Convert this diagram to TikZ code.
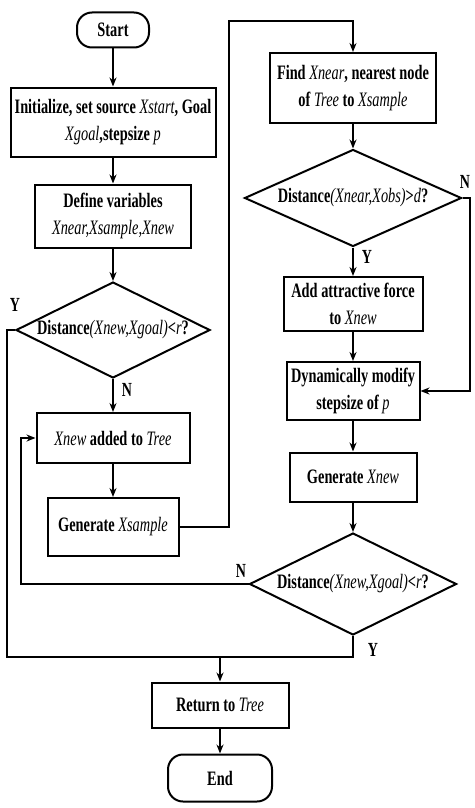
\documentclass[tikz,border=0pt]{standalone}
\usepackage{fontspec}
\setmainfont{Liberation Serif}[FakeStretch=0.7]
\usetikzlibrary{shapes.geometric,arrows.meta}
\newcommand\vv[1]{{\mdseries\itshape #1}}
\begin{document}
\begin{tikzpicture}[x=1pt,y=-1pt,
  every node/.style={font=\fontsize{20.5}{27}\selectfont\bfseries, align=center},
  line/.style={line width=1.7pt},
  arr/.style={line width=1.7pt, -{Stealth[length=9pt,width=7pt]}},
  boxx/.style={draw, line width=2pt, rectangle, inner sep=0pt},
  term/.style={draw, line width=2pt, rectangle, rounded corners=15pt, inner sep=0pt},
  decis/.style={draw, line width=2pt, diamond, inner sep=0pt},
  lab/.style={font=\fontsize{20}{22}\selectfont\bfseries}
]
\useasboundingbox (0,0) rectangle (474,808);
\fill[white] (0,0) rectangle (474,808);

% left column
\node[term, minimum width=72pt, minimum height=35pt] (start) at (113,30) {Start};
\node[boxx, minimum width=205pt, minimum height=69pt] (init) at (113,122) {Initialize, set source \vv{Xstart}, Goal\\ \vv{Xgoal},stepsize \vv{p}};
\node[boxx, minimum width=156pt, minimum height=63pt] (def) at (113,216) {Define variables\\ \vv{Xnear,Xsample,Xnew}};
\node[decis, minimum width=194pt, minimum height=96pt] (d1) at (113,330) {\makebox[0pt]{Distance\vv{(Xnew,Xgoal)}\textless\vv{r}?}};
\node[boxx, minimum width=153pt, minimum height=50pt] (xnew) at (113,438) {\vv{Xnew} added to \vv{Tree}};
\node[boxx, minimum width=131pt, minimum height=58pt] (gs) at (113,527) {Generate \vv{Xsample}};

% right column
\node[boxx, minimum width=166pt, minimum height=70pt] (find) at (353,88) {Find \vv{Xnear}, nearest node\\ of \vv{Tree} to \vv{Xsample}};
\node[decis, minimum width=217pt, minimum height=97pt] (d2) at (353,198) {\makebox[0pt]{Distance\vv{(Xnear,Xobs)}\textgreater\vv{d}?}};
\node[boxx, minimum width=139pt, minimum height=54pt] (att) at (353,304) {Add attractive force\\ to \vv{Xnew}};
\node[boxx, minimum width=133pt, minimum height=58pt] (dyn) at (353,391) {Dynamically modify\\ stepsize of \vv{p}};
\node[boxx, minimum width=127pt, minimum height=49pt] (gn) at (353,477) {Generate \vv{Xnew}};
\node[decis, minimum width=207pt, minimum height=102pt] (d3) at (353,584) {\makebox[0pt]{Distance\vv{(Xnew,Xgoal)}\textless\vv{r}?}};

% bottom
\node[boxx, minimum width=137pt, minimum height=45pt] (ret) at (220,705) {Return to \vv{Tree}};
\node[term, minimum width=104pt, minimum height=47pt] (end) at (220,778) {End};

% helper coordinates
\coordinate (c1) at (229,527);
\coordinate (c2) at (229,21);
\coordinate (c3) at (353,21);
\coordinate (c4) at (470,198);
\coordinate (c5) at (470,391);
\coordinate (c6) at (21,584);
\coordinate (c7) at (21,438);
\coordinate (c8) at (353,657);
\coordinate (c9) at (7,657);
\coordinate (c10) at (7,330);
\coordinate (j) at (220,657);

% connectors
\draw[arr] (start) -- (init);
\draw[arr] (init) -- (def);
\draw[arr] (def) -- (d1);
\draw[arr] (d1) -- (xnew);
\draw[arr] (xnew) -- (gs);
\draw[arr] (gs.east) -- (c1) -- (c2) -- (c3) -- (find.north);
\draw[arr] (find) -- (d2);
\draw[arr] (d2) -- (att);
\draw[arr] (att) -- (dyn);
\draw[arr] (d2.east) -- (c4) -- (c5) -- (dyn.east);
\draw[arr] (dyn) -- (gn);
\draw[arr] (gn) -- (d3);
\draw[arr] (d3.west) -- (c6) -- (c7) -- (xnew.west);
\draw[line] (d3.south) -- (c8) -- (c9) -- (c10) -- (d1.west);
\draw[arr] (j) -- (ret);
\draw[arr] (ret) -- (end);

% labels
\node[lab] (ly1) at (15,305) {Y};
\node[lab] (ln1) at (127,390) {N};
\node[lab] (ln2) at (465,182) {N};
\node[lab] (ly2) at (367,257) {Y};
\node[lab] (ln3) at (241,571) {N};
\node[lab] (ly3) at (373,650) {Y};
\end{tikzpicture}
\end{document}
